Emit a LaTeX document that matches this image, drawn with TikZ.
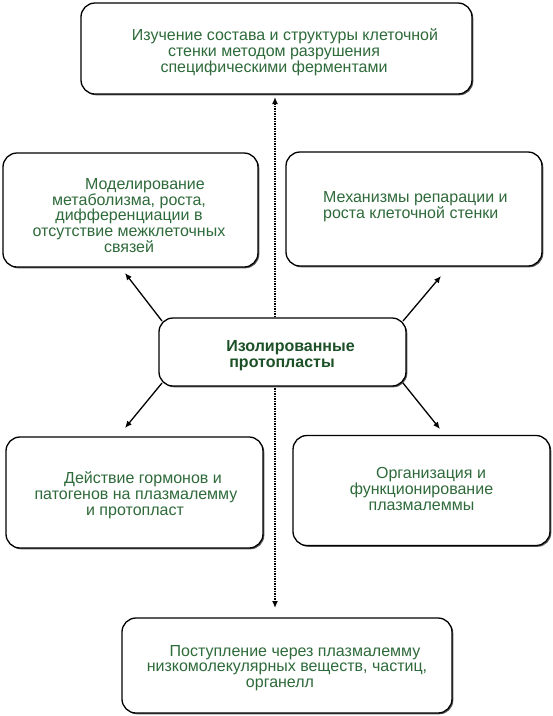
\documentclass[tikz,border=0pt]{standalone}
\usepackage{fontspec}
\setmainfont{Liberation Sans}
\usetikzlibrary{arrows.meta,shadows}
\definecolor{txtgreen}{HTML}{2E6A3A}
\definecolor{boldgreen}{HTML}{1C5026}
\tikzset{
  box/.style={draw=black, line width=1.3pt, rounded corners=14pt, fill=white,
    drop shadow={shadow xshift=1.3pt, shadow yshift=-1.3pt, fill=black!65, opacity=1}},
  txt/.style={font=\fontsize{16}{15.8}\selectfont, text=txtgreen, align=center, inner sep=0pt},
  btxt/.style={font=\bfseries\fontsize{16}{15.5}\selectfont, text=boldgreen, align=center, inner sep=0pt},
  conn/.style={line width=1.3pt, -{Latex[length=7pt,width=6pt]}},
  vconn/.style={line width=1.9pt, dash pattern=on 1.6pt off 0.9pt, {Latex[length=7pt,width=6pt]}-{Latex[length=7pt,width=6pt]}}
}
\begin{document}
\begin{tikzpicture}[x=1pt,y=-1pt]
\useasboundingbox (0,0) rectangle (553,716);
% named coordinates for connector ends
\coordinate (vt) at (275,97);
\coordinate (vb) at (275,608);
\coordinate (ulE) at (125,273);
\coordinate (urE) at (441,276);
\coordinate (llE) at (125,428);
\coordinate (lrE) at (440,429);
\coordinate (ulS) at (162,321);
\coordinate (urS) at (403,321);
\coordinate (llS) at (162,383);
\coordinate (lrS) at (403,383);
% vertical dotted connector (behind the central box)
\draw[vconn] (vt) -- (vb);
% boxes
\node[box, minimum width=391pt, minimum height=91pt] (btop) at (276.5,48.5) {};
\node[box, minimum width=255pt, minimum height=114pt] (bml) at (130.5,210) {};
\node[box, minimum width=256pt, minimum height=114pt] (bmr) at (414,209) {};
\node[box, minimum width=247pt, minimum height=68pt] (bc) at (282.5,352) {};
\node[box, minimum width=257pt, minimum height=111pt] (bll) at (134.5,492.5) {};
\node[box, minimum width=257pt, minimum height=110pt] (blr) at (421.5,490.5) {};
\node[box, minimum width=330pt, minimum height=95pt] (bbot) at (287,665.5) {};
% texts
\node[txt] (ttop) at (274,52.5) {\hspace*{22pt}Изучение состава и структуры клеточной\\стенки методом разрушения\\специфическими ферментами};
\node[txt] (tml) at (129,215.5) {\hspace*{32pt}Моделирование\\метаболизма, роста,\\дифференциации в\\отсутствие межклеточных\\связей};
\node[txt, align=left, anchor=west] (tmr) at (323,206.5) {Механизмы репарации и\\роста клеточной стенки};
\node[btxt] (tc) at (282,355.5) {\hspace*{17pt}Изолированные\\протопласты};
\node[txt] (tll) at (135,495.5) {\hspace*{16pt}Действие гормонов и\\\hspace*{2pt}патогенов на плазмалемму\\и протопласт};
\node[txt] (tlr) at (421.5,489) {\hspace*{19pt}Организация и\\функционирование\\плазмалеммы};
\node[txt] (tbot) at (280,668) {\hspace*{30pt}Поступление через плазмалемму\\\hspace*{14pt}низкомолекулярных веществ, частиц,\\органелл};
% diagonal connectors
\draw[conn] (ulS) -- (ulE);
\draw[conn] (urS) -- (urE);
\draw[conn] (llS) -- (llE);
\draw[conn] (lrS) -- (lrE);
\end{tikzpicture}
\end{document}
